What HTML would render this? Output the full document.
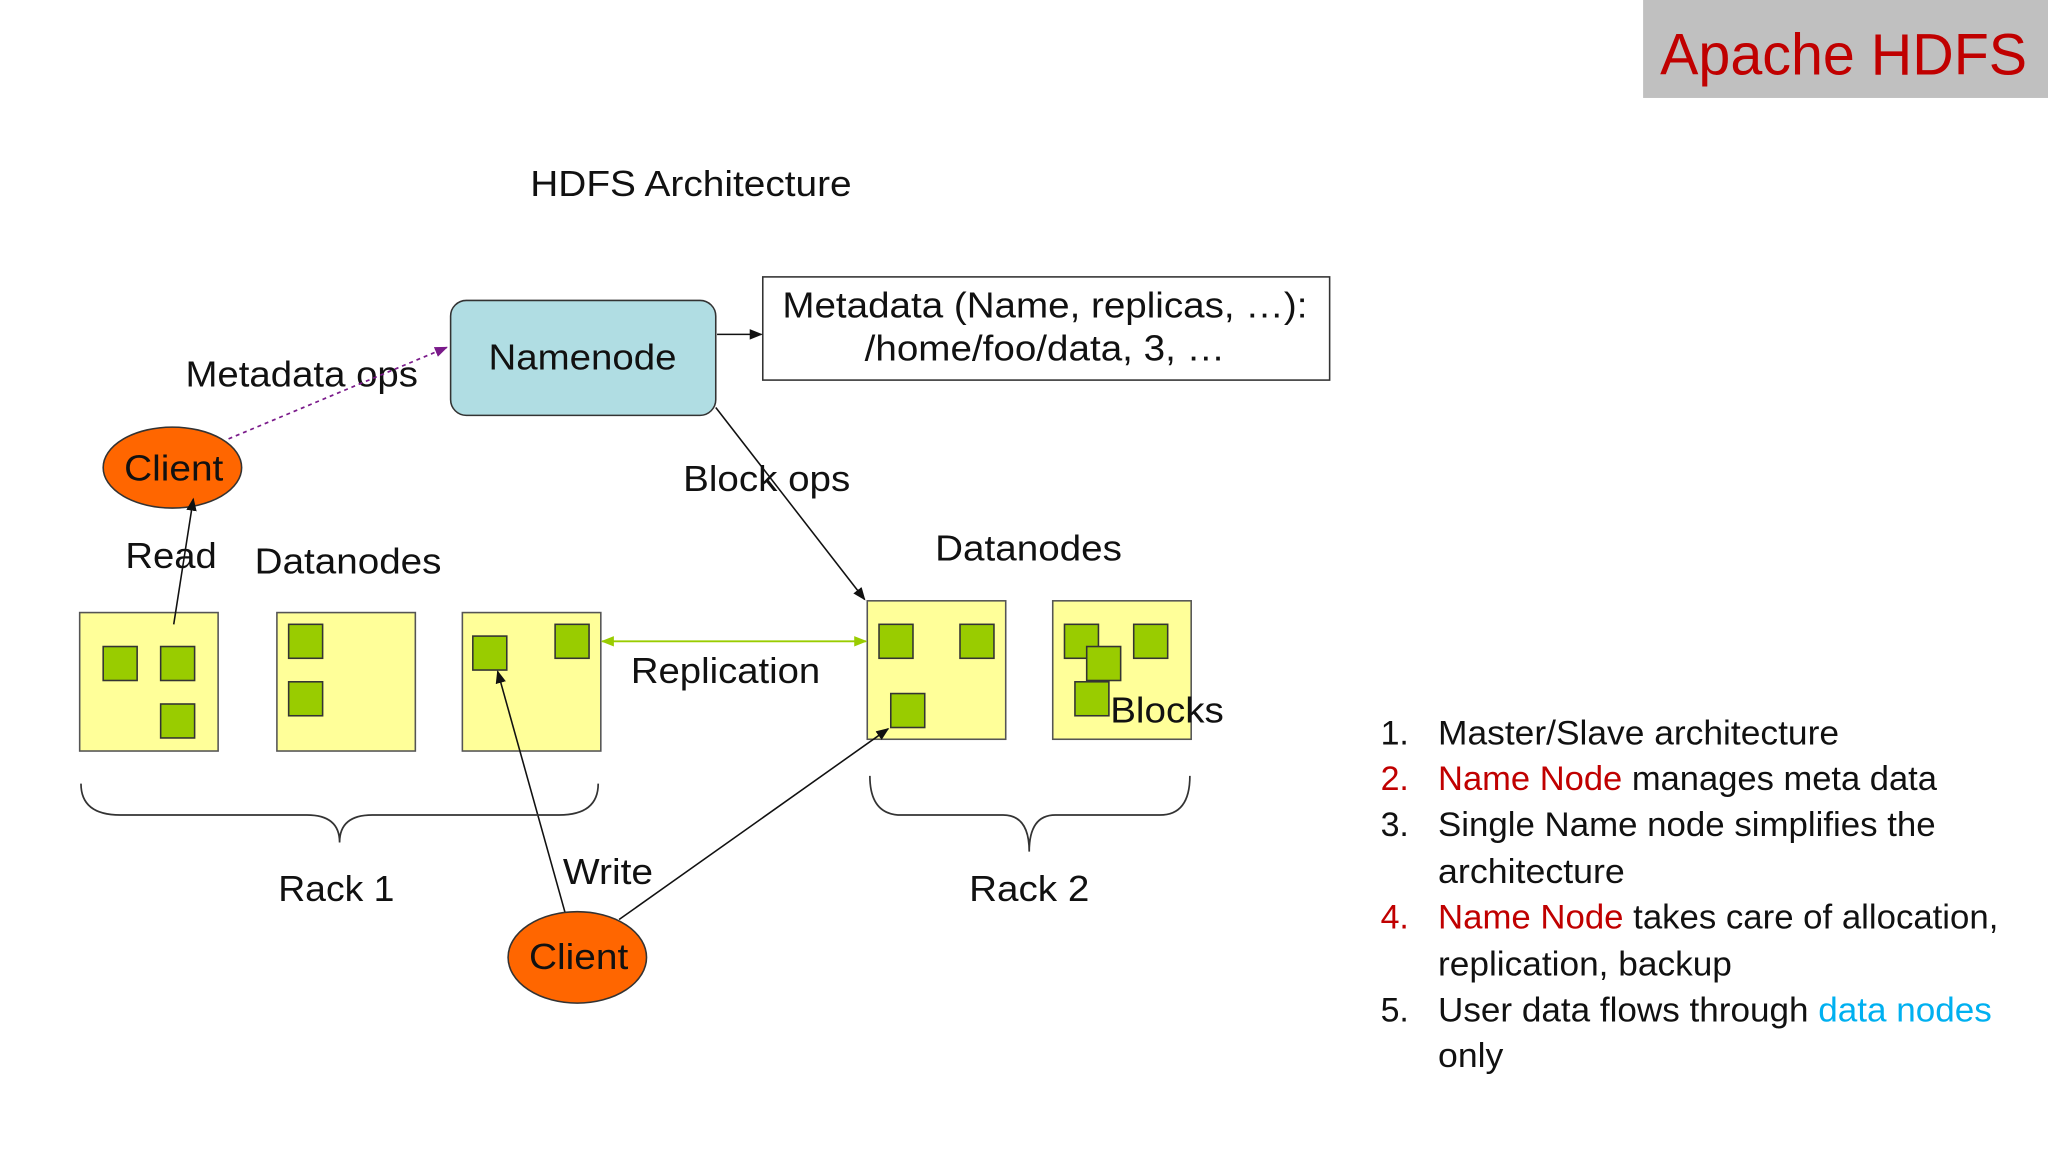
<!DOCTYPE html>
<html><head><meta charset="utf-8"><style>
html,body{margin:0;padding:0;background:#fff;}
svg{display:block;}
text{font-family:"Liberation Sans",sans-serif;fill:#111;}
</style></head><body>
<svg width="2048" height="1152" viewBox="0 0 1568 882" preserveAspectRatio="none" xmlns="http://www.w3.org/2000/svg">
<defs>
<marker id="a" markerWidth="10" markerHeight="10" refX="9" refY="5" orient="auto" markerUnits="userSpaceOnUse"><path d="M0,1 L10,5 L0,9 z" fill="#111"/></marker>
<marker id="p" markerWidth="10" markerHeight="10" refX="9" refY="5" orient="auto" markerUnits="userSpaceOnUse"><path d="M0,1 L10,5 L0,9 z" fill="#7a1a8a"/></marker>
<marker id="g" markerWidth="10" markerHeight="10" refX="9" refY="5" orient="auto" markerUnits="userSpaceOnUse"><path d="M0,1 L10,5 L0,9 z" fill="#99cc00"/></marker>
<marker id="gs" markerWidth="10" markerHeight="10" refX="1" refY="5" orient="auto" markerUnits="userSpaceOnUse"><path d="M10,1 L0,5 L10,9 z" fill="#99cc00"/></marker>
</defs>
<rect x="1258" y="0" width="310" height="75" fill="#c0c0c0"/>
<text x="1271" y="57" font-size="45" textLength="281" lengthAdjust="spacingAndGlyphs" style="fill:#c00000">Apache HDFS</text>
<text x="406" y="150" font-size="28" textLength="246" lengthAdjust="spacingAndGlyphs">HDFS Architecture</text>
<rect x="345" y="230" width="203" height="88" rx="12" fill="#b0dde3" stroke="#333" stroke-width="1.2"/>
<text x="374" y="283" font-size="28" textLength="144" lengthAdjust="spacingAndGlyphs">Namenode</text>
<rect x="584" y="212" width="434" height="79" fill="#fff" stroke="#333" stroke-width="1.2"/>
<text x="599" y="243" font-size="28" textLength="402" lengthAdjust="spacingAndGlyphs">Metadata (Name, replicas, …):</text>
<text x="662" y="276" font-size="28" textLength="276" lengthAdjust="spacingAndGlyphs">/home/foo/data, 3, …</text>
<line x1="549" y1="256" x2="583" y2="256" stroke="#111" stroke-width="1.2" marker-end="url(#a)"/>
<text x="142" y="296" font-size="28" textLength="178" lengthAdjust="spacingAndGlyphs">Metadata ops</text>
<line x1="175" y1="336" x2="342" y2="266" stroke="#7a1a8a" stroke-width="1.3" stroke-dasharray="3,3" marker-end="url(#p)"/>
<line x1="548" y1="312" x2="662" y2="459" stroke="#111" stroke-width="1.2" marker-end="url(#a)"/>
<text x="523" y="376" font-size="28" textLength="128" lengthAdjust="spacingAndGlyphs">Block ops</text>
<ellipse cx="132" cy="358" rx="53" ry="31" fill="#ff6600" stroke="#333" stroke-width="1.2"/>
<text x="95" y="368" font-size="28" textLength="76" lengthAdjust="spacingAndGlyphs">Client</text>
<text x="96" y="435" font-size="28" textLength="70" lengthAdjust="spacingAndGlyphs">Read</text>
<text x="195" y="439" font-size="28" textLength="143" lengthAdjust="spacingAndGlyphs">Datanodes</text>
<text x="716" y="429" font-size="28" textLength="143" lengthAdjust="spacingAndGlyphs">Datanodes</text>
<g fill="#ffff99" stroke="#555" stroke-width="1.2">
<rect x="61" y="469" width="106" height="106"/>
<rect x="212" y="469" width="106" height="106"/>
<rect x="354" y="469" width="106" height="106"/>
<rect x="664" y="460" width="106" height="106"/>
<rect x="806" y="460" width="106" height="106"/>
</g>
<g fill="#99cc00" stroke="#333" stroke-width="1.2">
<rect x="79" y="495" width="26" height="26"/><rect x="123" y="495" width="26" height="26"/><rect x="123" y="539" width="26" height="26"/>
<rect x="221" y="478" width="26" height="26"/><rect x="221" y="522" width="26" height="26"/>
<rect x="362" y="487" width="26" height="26"/><rect x="425" y="478" width="26" height="26"/>
<rect x="673" y="478" width="26" height="26"/><rect x="735" y="478" width="26" height="26"/><rect x="682" y="531" width="26" height="26"/>
<rect x="815" y="478" width="26" height="26"/><rect x="868" y="478" width="26" height="26"/><rect x="823" y="522" width="26" height="26"/><rect x="832" y="495" width="26" height="26"/>
</g>
<text x="850" y="553" font-size="28" textLength="87" lengthAdjust="spacingAndGlyphs">Blocks</text>
<line x1="133" y1="478" x2="148" y2="382" stroke="#111" stroke-width="1.2" marker-end="url(#a)"/>
<line x1="461" y1="491" x2="663" y2="491" stroke="#99cc00" stroke-width="1.5" marker-start="url(#gs)" marker-end="url(#g)"/>
<text x="483" y="523" font-size="28" textLength="145" lengthAdjust="spacingAndGlyphs">Replication</text>
<line x1="433" y1="700" x2="381" y2="514" stroke="#111" stroke-width="1.2" marker-end="url(#a)"/>
<line x1="474" y1="704" x2="680" y2="558" stroke="#111" stroke-width="1.2" marker-end="url(#a)"/>
<text x="431" y="677" font-size="28" textLength="69" lengthAdjust="spacingAndGlyphs">Write</text>
<ellipse cx="442" cy="733" rx="53" ry="35" fill="#ff6600" stroke="#333" stroke-width="1.2"/>
<text x="405" y="742" font-size="28" textLength="76" lengthAdjust="spacingAndGlyphs">Client</text>
<path d="M62,600 Q62,624 92,624 L235,624 Q260,624 260,645 Q260,624 285,624 L428,624 Q458,624 458,600" fill="none" stroke="#333" stroke-width="1.3"/>
<path d="M666,594 Q666,624 690,624 L768,624 Q788,624 788,652 Q788,624 808,624 L888,624 Q911,624 911,594" fill="none" stroke="#333" stroke-width="1.3"/>
<text x="213" y="690" font-size="28" textLength="89" lengthAdjust="spacingAndGlyphs">Rack 1</text>
<text x="742" y="690" font-size="28" textLength="92" lengthAdjust="spacingAndGlyphs">Rack 2</text>
<g font-size="26">
<text x="1057" y="570">1.</text><text x="1101" y="570" textLength="307" lengthAdjust="spacingAndGlyphs">Master/Slave architecture</text>
<text x="1057" y="605" style="fill:#c00000">2.</text><text x="1101" y="605" textLength="382" lengthAdjust="spacingAndGlyphs"><tspan style="fill:#c00000">Name Node</tspan> manages meta data</text>
<text x="1057" y="640">3.</text><text x="1101" y="640" textLength="381" lengthAdjust="spacingAndGlyphs">Single Name node simplifies the</text>
<text x="1101" y="676" textLength="143" lengthAdjust="spacingAndGlyphs">architecture</text>
<text x="1057" y="711" style="fill:#c00000">4.</text><text x="1101" y="711" textLength="429" lengthAdjust="spacingAndGlyphs"><tspan style="fill:#c00000">Name Node</tspan> takes care of allocation,</text>
<text x="1101" y="747" textLength="225" lengthAdjust="spacingAndGlyphs">replication, backup</text>
<text x="1057" y="782">5.</text><text x="1101" y="782" textLength="424" lengthAdjust="spacingAndGlyphs">User data flows through <tspan style="fill:#00b0f0">data nodes</tspan></text>
<text x="1101" y="817" textLength="50" lengthAdjust="spacingAndGlyphs">only</text>
</g>
</svg>
</body></html>
